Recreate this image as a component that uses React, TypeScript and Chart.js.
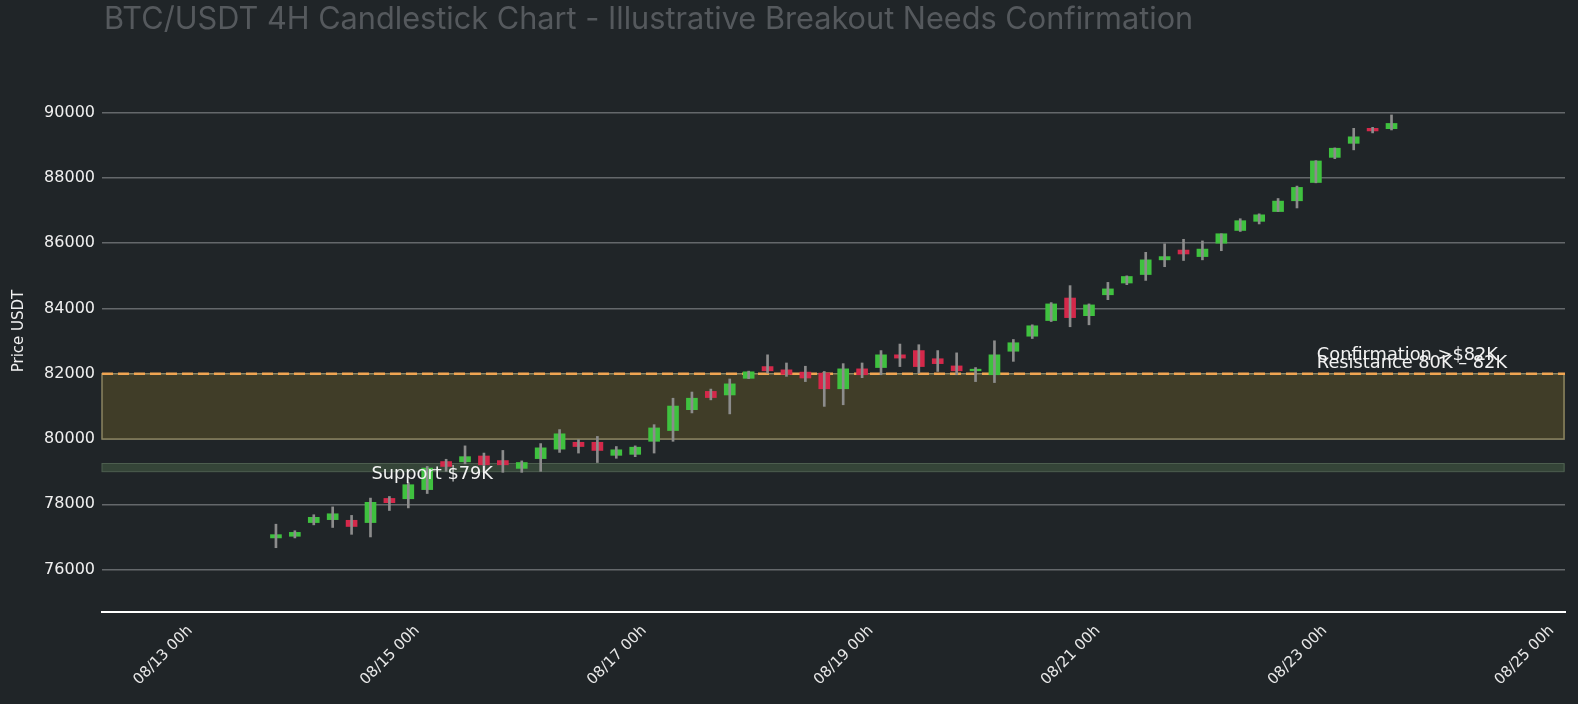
import { useEffect, useRef } from "react";
import { Chart, registerables } from "chart.js";

Chart.register(...registerables);

// candle times, in hours since 08/13 00h (4H candles)
const HOURS = [
  16, 20, 24, 28, 32, 36, 40, 44, 48, 52, 56, 60, 64, 68, 72, 76, 80, 84, 88, 92,
  96, 100, 104, 108, 112, 116, 120, 124, 128, 132, 136, 140, 144, 148, 152, 156, 160, 164, 168, 172,
  176, 180, 184, 188, 192, 196, 200, 204, 208, 212, 216, 220, 224, 228, 232, 236, 240, 244, 248, 252,
];
const OPEN = [
  76970, 77020, 77440, 77530, 77510, 77440, 78180, 78170, 78450, 79310, 79300, 79480, 79340, 79100, 79400, 79690, 79900, 79900, 79500, 79530,
  79930, 80260, 80900, 81460, 81350, 81860, 82220, 82120, 82050, 82020, 81540, 82150, 82190, 82580, 82710, 82460, 82240, 82090, 81970, 82690,
  83150, 83630, 84320, 83780, 84420, 84780, 85040, 85490, 85790, 85590, 86000, 86390, 86670, 86970, 87300, 87860, 88630, 89060, 89520, 89510,
];
const HIGH = [
  77390, 77190, 77680, 77920, 77660, 78190, 78240, 78660, 79160, 79380, 79790, 79570, 79650, 79330, 79860, 80290, 79980, 80080, 79770, 79790,
  80440, 81250, 81440, 81530, 81840, 82080, 82580, 82330, 82230, 82070, 82310, 82330, 82710, 82910, 82890, 82710, 82640, 82190, 83010, 83050,
  83500, 84180, 84700, 84140, 84800, 85000, 85720, 85980, 86120, 86070, 86290, 86750, 86900, 87370, 87750, 88530, 88920, 89520, 89550, 89930,
];
const LOW = [
  76670, 76970, 77370, 77290, 77080, 77000, 77810, 77890, 78330, 79010, 79240, 78980, 78980, 78980, 79010, 79590, 79570, 79280, 79410, 79460,
  79570, 79930, 80800, 81200, 80770, 81850, 82020, 81920, 81760, 81000, 81050, 81880, 81970, 82220, 82020, 82070, 81970, 81760, 81730, 82380,
  83080, 83600, 83440, 83500, 84270, 84730, 84860, 85280, 85470, 85490, 85770, 86360, 86590, 86970, 87080, 87850, 88590, 88860, 89380, 89470,
];
const CLOSE = [
  77070, 77140, 77600, 77710, 77320, 78060, 78050, 78600, 79110, 79160, 79460, 79210, 79210, 79280, 79730, 80160, 79770, 79650, 79670, 79750,
  80340, 81010, 81250, 81270, 81690, 82060, 82090, 81980, 81870, 81540, 82150, 81970, 82580, 82480, 82220, 82310, 82090, 82140, 82580, 82950,
  83470, 84140, 83720, 84110, 84600, 84980, 85490, 85590, 85670, 85820, 86290, 86690, 86870, 87290, 87710, 88520, 88910, 89260, 89440, 89670,
];

const X_TICKS = [0, 48, 96, 144, 192, 240, 288];
const Y_TICKS = [76000, 78000, 80000, 82000, 84000, 86000, 88000, 90000];
const X_RANGE = [-20.8, 288.7];
const Y_RANGE = [74700, 91920];

const RESISTANCE_ZONE = [80000, 82000];
const SUPPORT_ZONE = [79000, 79250];
const CONFIRMATION_LEVEL = 82000;
const NOTES = [
  { text: "Support $79K", hour: 36.2, price: 78780 },
  { text: "Resistance 80K – 82K", hour: 236.2, price: 82190 },
  { text: "Confirmation >$82K", hour: 236.2, price: 82410 },
];
const TITLE = "BTC/USDT 4H Candlestick Chart - Illustrative Breakout Needs Confirmation";

const W = 1578;
const H = 704;
const BG = "#202528";
const UP = "#3fc13f";
const DOWN = "#d4284a";
const WICK = "#8c8c8c";

function hourLabel(h: number) {
  const day = 13 + Math.floor(h / 24);
  const hh = h % 24;
  return `08/${String(day).padStart(2, "0")} ${String(hh).padStart(2, "0")}h`;
}

const zonesPlugin = {
  id: "zones",
  beforeDraw(chart: any) {
    const { ctx, width, height } = chart;
    ctx.save();
    ctx.fillStyle = BG;
    ctx.fillRect(0, 0, width, height);
    ctx.restore();
  },
  beforeDatasetsDraw(chart: any) {
    const { ctx, chartArea, scales } = chart;
    const y = scales.y;
    const l = chartArea.left;
    const w = chartArea.right - chartArea.left;
    ctx.save();
    // resistance zone
    const rTop = y.getPixelForValue(RESISTANCE_ZONE[1]);
    const rBot = y.getPixelForValue(RESISTANCE_ZONE[0]);
    ctx.fillStyle = "#403d28";
    ctx.fillRect(l, rTop, w, rBot - rTop);
    ctx.strokeStyle = "#8a8460";
    ctx.lineWidth = 1.5;
    ctx.strokeRect(l, rTop, w - 1, rBot - rTop);
    // support zone
    const sTop = y.getPixelForValue(SUPPORT_ZONE[1]);
    const sBot = y.getPixelForValue(SUPPORT_ZONE[0]);
    ctx.fillStyle = "#354538";
    ctx.fillRect(l, sTop, w, sBot - sTop);
    ctx.strokeStyle = "#4d5e4f";
    ctx.lineWidth = 1;
    ctx.strokeRect(l, sTop, w - 1, sBot - sTop);
    // confirmation level
    const c = y.getPixelForValue(CONFIRMATION_LEVEL);
    ctx.strokeStyle = "#f0a552";
    ctx.lineWidth = 2.5;
    ctx.setLineDash([11, 5]);
    ctx.beginPath();
    ctx.moveTo(l, c);
    ctx.lineTo(chartArea.right, c);
    ctx.stroke();
    ctx.restore();
  },
  afterDatasetsDraw(chart: any) {
    const { ctx, chartArea, scales } = chart;
    ctx.save();
    ctx.fillStyle = "#f2f2f2";
    ctx.font = "17.8px 'DejaVu Sans'";
    ctx.textAlign = "left";
    ctx.textBaseline = "alphabetic";
    for (const n of NOTES) {
      ctx.fillText(n.text, scales.x.getPixelForValue(n.hour), scales.y.getPixelForValue(n.price));
    }
    ctx.fillStyle = "#55595d";
    ctx.font = "30.7px Inter";
    ctx.textBaseline = "middle";
    ctx.fillText(TITLE, chartArea.left + 2, 20);
    ctx.restore();
  },
};

export default function App() {
  const chartRef = useRef<HTMLCanvasElement>(null);
  const chartInstance = useRef<Chart | null>(null);

  useEffect(() => {
    if (!chartRef.current) return;
    if (chartInstance.current) chartInstance.current.destroy();
    const ctx = chartRef.current.getContext("2d");
    if (!ctx) return;

    chartInstance.current = new Chart(ctx, {
      type: "bar",
      data: {
        datasets: [
          {
            label: "Wick",
            data: HOURS.map((h, i) => ({ x: h, y: [LOW[i], HIGH[i]] })) as any,
            backgroundColor: WICK,
            barThickness: 2,
            grouped: false,
            order: 0,
          },
          {
            label: "Body",
            data: HOURS.map((h, i) => ({ x: h, y: [OPEN[i], CLOSE[i]] })) as any,
            backgroundColor: HOURS.map((_, i) => (CLOSE[i] >= OPEN[i] ? UP : DOWN)),
            barThickness: 11,
            grouped: false,
            order: 1,
          },
        ],
      },
      options: {
        responsive: false,
        animation: false,
        devicePixelRatio: 1,
        layout: { padding: { top: 50, right: 13, left: 0, bottom: 0 } },
        plugins: {
          legend: { display: false },
          title: { display: false },
          tooltip: { enabled: false },
        },
        scales: {
          x: {
            type: "linear",
            min: X_RANGE[0],
            max: X_RANGE[1],
            offset: false,
            afterBuildTicks: (scale: any) => {
              scale.ticks = X_TICKS.map((v) => ({ value: v }));
            },
            afterFit: (scale: any) => {
              scale.height = 92;
              scale.paddingLeft = 0;
              scale.paddingRight = 0;
            },
            grid: { display: false, drawTicks: false },
            border: { display: true, color: "#ffffff", width: 2 },
            ticks: {
              color: "#e8e8e8",
              font: { family: "'DejaVu Sans'", size: 15 },
              minRotation: 45,
              maxRotation: 45,
              padding: 10,
              labelOffset: -10,
              autoSkip: false,
              callback: (v: any) => hourLabel(Number(v)),
            },
          },
          y: {
            min: Y_RANGE[0],
            max: Y_RANGE[1],
            afterBuildTicks: (scale: any) => {
              scale.ticks = Y_TICKS.map((v) => ({ value: v }));
            },
            afterFit: (scale: any) => {
              scale.width = 102;
              scale.paddingTop = 0;
              scale.paddingBottom = 0;
            },
            grid: { color: "#64686b", lineWidth: 1.5, drawTicks: false },
            border: { display: false },
            ticks: {
              color: "#f0f0f0",
              font: { family: "'DejaVu Sans'", size: 16 },
              padding: 7,
              callback: (v: any) => String(v),
            },
            title: {
              display: true,
              text: "Price USDT",
              color: "#f0f0f0",
              font: { family: "'DejaVu Sans'", size: 15 },
              padding: { top: 10.5, bottom: 0 },
            },
          },
        },
      },
      plugins: [zonesPlugin],
    });

    return () => {
      if (chartInstance.current) {
        chartInstance.current.destroy();
        chartInstance.current = null;
      }
    };
  }, []);

  return (
    <div style={{ position: "fixed", left: 0, top: 0, width: W, height: H, background: BG }}>
      <canvas ref={chartRef} width={W} height={H} style={{ display: "block" }}></canvas>
    </div>
  );
}
